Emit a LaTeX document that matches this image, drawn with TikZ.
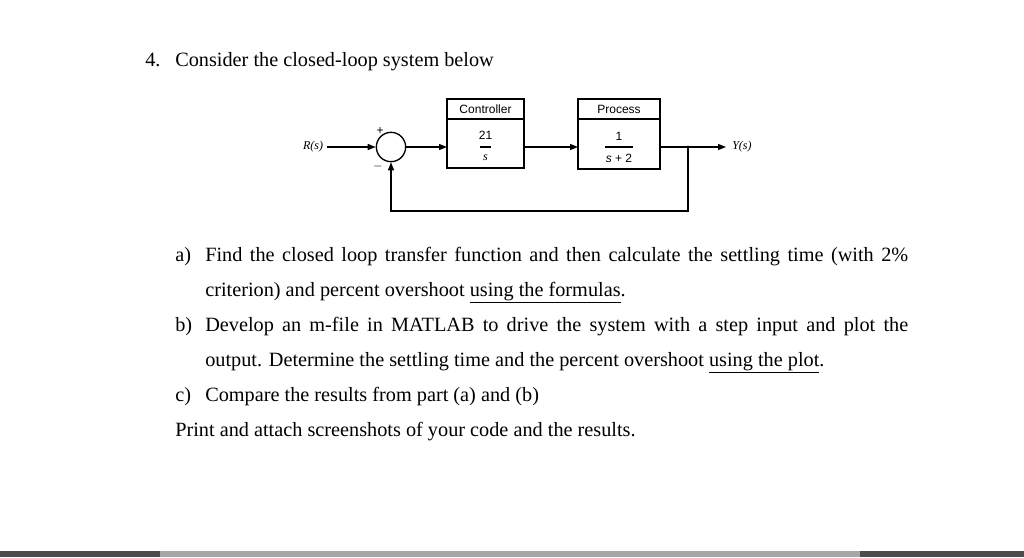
\documentclass[tikz,border=0pt]{standalone}
\usepackage{fontspec}
\setmainfont{Liberation Serif}
\newfontfamily\sansf{Liberation Sans}
\usetikzlibrary{arrows.meta}
\begin{document}
\begin{tikzpicture}[x=0.75pt,y=-0.75pt,
  txt/.style={anchor=base west,inner sep=0,font=\fontsize{15.2}{17}\selectfont},
  blk/.style={draw,line width=1pt},
  sm/.style={inner sep=0,font=\sansf\fontsize{9}{10}\selectfont},
  ln/.style={line width=1pt},
  arr/.style={ln,-{Triangle[length=6pt,width=4.5pt]}}]
\useasboundingbox (0,0) rectangle (1024,557);
\fill[white] (0,0) rectangle (1024,557);
\fill[black!70] (0,551) rectangle (1024,557);
\fill[black!35] (160,551) rectangle (860,557);
\node[txt] (t0n) at (145,66) {4.};
\node[txt] (t0) at (175,66) {Consider the closed-loop system below};
% diagram
\node[sm,font=\itshape\fontsize{9}{10}\selectfont] (R) at (313,147) {R(s)};
\node[draw,circle,line width=1pt,minimum size=22pt,inner sep=0] (S) at (391,147) {};
\node[sm] (plus) at (380,131) {+};
\node[sm] (minus) at (378,166) {$-$};
\draw[blk] (447,99) rectangle (524,168);
\draw[ln] (447,119) -- (524,119);
\node[sm] (c1) at (485.5,109) {Controller};
\node[sm] (c2) at (485.5,135) {21};
\draw[ln] (480,147) -- (491,147);
\node[sm,font=\itshape\fontsize{9}{10}\selectfont] (c3) at (485.5,158) {s};
\coordinate (C) at (447,147);
\coordinate (Co) at (524,147);
\draw[blk] (578,99) rectangle (660,169);
\draw[ln] (578,119) -- (660,119);
\node[sm] (p1) at (619,109) {Process};
\node[sm] (p2) at (619,136) {1};
\draw[ln] (605,147) -- (633,147);
\node[sm] (p3) at (619,158) {\textit{s} + 2};
\coordinate (P) at (578,147);
\coordinate (Po) at (660,147);
\coordinate (B) at (688,147);
\coordinate (Yo) at (726,147);
\node[sm,font=\itshape\fontsize{9}{10}\selectfont,anchor=west] (Y) at (732,147) {Y(s)};
\coordinate (F1) at (688,211);
\coordinate (F2) at (391,211);
\draw[arr] (R.east) ++(4,0) -- (S.west);
\draw[arr] (S.east) -- (C);
\draw[arr] (Co) -- (P);
\draw[arr] (Po) -- (Yo);
\fill (B) circle (1.3pt);
\draw[arr] (B) -- (F1) -- (F2) -- (S.south);
% text
\node[txt] (a) at (175,261) {a)};
\node[txt] (a1) at (205,261) {\makebox[527.25pt][s]{Find the closed loop transfer function and then calculate the settling time (with 2\%}};
\node[txt] (a2) at (205,296) {criterion) and percent overshoot \underline{using the formulas}.};
\node[txt] (b) at (175,331) {b)};
\node[txt] (b1) at (205,331) {\makebox[527.25pt][s]{Develop an m-file in MATLAB to drive the system with a step input and plot the}};
\node[txt] (b2) at (205,366) {output. Determine the settling time and the percent overshoot \underline{using the plot}.};
\node[txt] (c) at (175,401) {c)};
\node[txt] (c1t) at (205,401) {Compare the results from part (a) and (b)};
\node[txt] (d) at (175,436) {Print and attach screenshots of your code and the results.};
\end{tikzpicture}
\end{document}
